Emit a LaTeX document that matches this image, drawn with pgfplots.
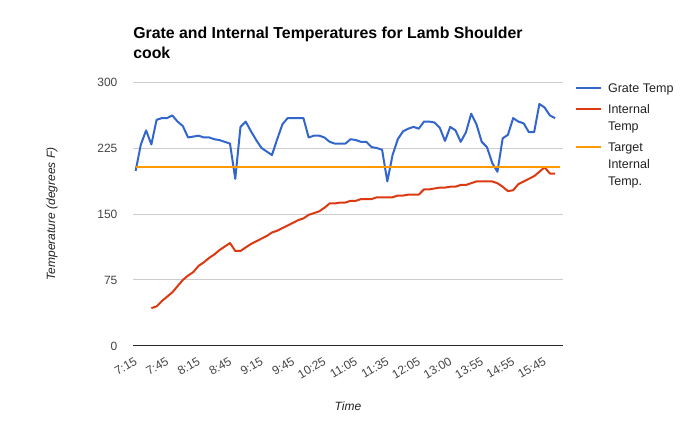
\documentclass[border=0pt]{standalone}
\usepackage{pgfplots}
\pgfplotsset{compat=1.18}
\usepackage{pgfplotstable}
\usepackage{fontspec}
\setmainfont{Liberation Sans}

\definecolor{grate}{HTML}{3366CC}
\definecolor{internal}{HTML}{DC3912}
\definecolor{target}{HTML}{FF9900}
\definecolor{gridgray}{HTML}{CCCCCC}
\definecolor{ticktext}{HTML}{444444}
\definecolor{bodytext}{HTML}{222222}

% Grate temperature, one reading per category slot
\pgfplotstableread{
idx temp
0 199
1 229
2 245
3 229
4 257
5 259
6 259
7 262
8 255
9 250
10 237
11 238
12 239
13 237
14 237
15 235
16 234
17 232
18 230
19 190
20 249
21 255
22 244
23 234
24 225
25 221
26 217
27 235
28 252
29 259
30 259
31 259
32 259
33 237
34 239
35 239
36 237
37 232
38 230
39 230
40 230
41 235
42 234
43 232
44 232
45 226
46 225
47 223
48 187
49 217
50 235
51 244
52 247
53 249
54 247
55 255
56 255
57 254
58 248
59 233
60 249
61 245
62 232
63 243
64 264
65 252
66 232
67 226
68 208
69 198
70 236
71 240
72 259
73 255
74 253
75 243
76 243
77 275
78 271
79 262
80 259
}\grateTemp

% Internal (probe) temperature, starts a few readings later
\pgfplotstableread{
idx temp
3 43
4 45
5 51
6 56
7 61
8 68
9 75
10 80
11 84
12 91
13 95
14 100
15 104
16 109
17 113
18 117
19 108
20 108
21 112
22 116
23 119
24 122
25 125
26 129
27 131
28 134
29 137
30 140
31 143
32 145
33 149
34 151
35 153
36 157
37 162
38 162
39 163
40 163
41 165
42 165
43 167
44 167
45 167
46 169
47 169
48 169
49 169
50 171
51 171
52 172
53 172
54 172
55 178
56 178
57 179
58 180
59 180
60 181
61 181
62 183
63 183
64 185
65 187
66 187
67 187
68 187
69 185
70 181
71 176
72 177
73 184
74 187
75 190
76 193
77 198
78 203
79 196
80 196
}\internalTemp

\begin{document}
\begin{tikzpicture}
\path[use as bounding box] (0,0) rectangle (520.5pt,321.75pt);

\begin{axis}[
  at={(99.75pt,62.25pt)}, anchor=south west,
  scale only axis, width=322.5pt, height=198pt,
  xmin=-0.5, xmax=81.5, ymin=0, ymax=300,
  ytick={0,75,150,225,300},
  xtick={0,6,...,78},
  xticklabels={7:15,7:45,8:15,8:45,9:15,9:45,10:25,11:05,11:35,12:05,13:00,13:55,14:55,15:45},
  major tick length=0pt,
  ymajorgrids, grid style={gridgray, line width=0.75pt},
  axis x line*=bottom, axis y line*=left,
  x axis line style={-, color=black!85, line width=0.75pt},
  y axis line style={draw=none},
  /pgf/number format/assume math mode=true,
  ticklabel style={font=\fontsize{9pt}{10pt}\selectfont, text=ticktext, inner sep=0pt},
  yticklabel style={anchor=east, xshift=-11.5pt},
  xticklabel style={rotate=30, anchor=north east, xshift=-5pt, yshift=-6.1pt},
  legend cell align=left,
  legend image code/.code={\draw[#1, line width=1.5pt] (0pt,3.3pt) -- (18.75pt,3.3pt);},
  legend style={at={(1.028,1.005)}, anchor=north west, draw=none, fill=none,
    inner sep=0pt, outer sep=0pt, row sep=3pt,
    font=\fontsize{9.4pt}{12.75pt}\selectfont, text=bodytext,
    cells={anchor=base west},
    nodes={inner sep=0pt, text depth=},
    /tikz/every odd column/.append style={column sep=4.5pt}},
]
\addplot[grate, line width=1.5pt, line join=round] table[x=idx, y=temp] {\grateTemp};
\addlegendentry{\begin{tabular}[t]{@{}l@{}}Grate Temp\end{tabular}}
\addplot[internal, line width=1.5pt, line join=round] table[x=idx, y=temp] {\internalTemp};
\addlegendentry{\begin{tabular}[t]{@{}l@{}}Internal\\Temp\end{tabular}}
\addplot[target, line width=1.5pt] coordinates {(0,203) (81,203)};
\addlegendentry{\begin{tabular}[t]{@{}l@{}}Target\\Internal\\Temp.\end{tabular}}
\end{axis}

% chart title
\node[anchor=base west, inner sep=0pt, font=\bfseries\fontsize{11.9pt}{15pt}\selectfont]
  at (99.75pt, 292.5pt) {Grate and Internal Temperatures for Lamb Shoulder};
\node[anchor=base west, inner sep=0pt, font=\bfseries\fontsize{11.9pt}{15pt}\selectfont]
  at (99.75pt, 277.5pt) {cook};

% axis titles
\node[rotate=90, inner sep=0pt, text=bodytext, font=\itshape\fontsize{9pt}{10pt}\selectfont]
  at (39pt, 161.25pt) {Temperature (degrees F)};
\node[inner sep=0pt, text=bodytext, font=\itshape\fontsize{9pt}{10pt}\selectfont]
  at (261pt, 17.25pt) {Time};
\end{tikzpicture}
\end{document}
